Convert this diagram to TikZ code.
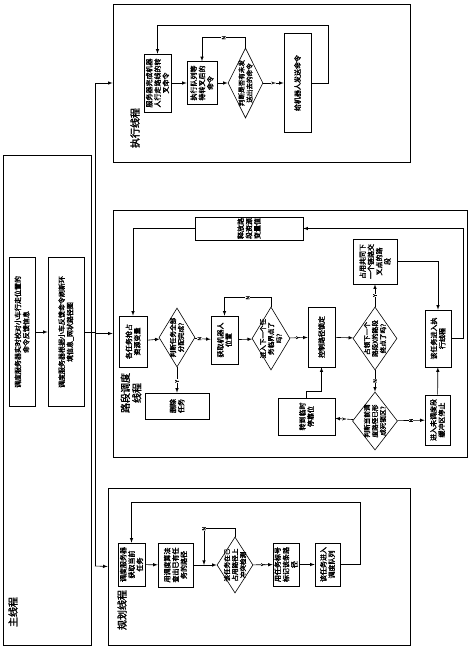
\documentclass[tikz,border=0pt]{standalone}
\usepackage{fontspec}
\setmainfont{Noto Sans CJK SC}[AutoFakeBold = 2]
\usetikzlibrary{shapes.geometric}
\tikzset{
  blk/.style   = {draw, rotate = 90, inner sep = .5pt, align = center,
                  font = \fontsize{7}{8.3}\selectfont\bfseries},
  dia/.style   = {draw, diamond, rotate = 90, inner sep = 0pt},
  dlab/.style  = {rotate = 90, inner sep = 0pt, align = center,
                  font = \fontsize{6.6}{8}\selectfont\bfseries},
  frame/.style = {draw, line width = .8pt, inner sep = 0pt},
  yn/.style    = {rotate = 90, inner sep = .5pt, fill = white,
                  font = \fontsize{5}{5}\selectfont\bfseries},
  title/.style = {rotate = 90, inner sep = 0pt, align = center,
                  font = \fontsize{10}{11.5}\selectfont\bfseries},
}
\begin{document}
\begin{tikzpicture}[x = 1pt, y = -1pt, >= latex, line width = .6pt]
    \useasboundingbox (0, 0) rectangle (474, 648);
    % main thread
    \node (main) at ( 47, 400) [frame, minimum width = 88pt, minimum height = 490pt] {};
    \node at ( 13, 612) [title] {主线程};
    \node (M1) at ( 22, 332) [blk, minimum width = 149pt, minimum height = 26pt]
      {调度服务器实时校对小车行走位置的\\命令反馈信息};
    \node (M2) at ( 66, 332) [blk, minimum width = 149pt, minimum height = 36pt]
      {调度服务器根据小车反馈命令刷新环\\境信息\_网状路径图};
    \coordinate (bt) at (95,  83);
    \coordinate (bb) at (95, 566);

    % execution thread
    \node (exec) at (261.5,  83) [frame, minimum width = 297pt, minimum height = 158pt] {};
    \node at (135, 128) [title] {执行线程};
    \node (E1) at (157.5,  83) [blk, minimum width = 58pt, minimum height = 27pt]
      {服务器完成机器\\人行走路线的转\\叉命令};
    \node (E2) at (202,  83) [blk, minimum width = 43pt, minimum height = 30pt]
      {执行队列等\\待转叉后的\\命令};
    \node (ED) at (245.5,  83) [dia, minimum width = 70pt, minimum height = 35pt,
      label = {[dlab]center:判断是否有未发\\送出去的命令}] {};
    \node (E3) at (297.5,  83) [blk, minimum width = 99pt, minimum height = 27pt]
      {给机器人发送命令};

    % route scheduling thread
    \node (route) at (290, 333.5) [frame, minimum width = 354pt, minimum height = 247pt] {};
    \node at (131, 393) [title] {路段调度\\线程};
    \node (R0) at (249, 228.5) [blk, minimum width = 23pt, minimum height = 108pt]
      {释放路\\段资源\\变量值};
    \node (R1) at (133, 341.5) [blk, minimum width = 51pt, minimum height = 28pt]
      {各任务抢占\\资源变量};
    \node (D1) at (177, 337.5) [dia, minimum width = 59pt, minimum height = 36pt,
      label = {[dlab]center:判断任务全部\\分配完成?}] {};
    \node (R8) at (177, 406) [blk, minimum width = 26pt, minimum height = 64pt]
      {删除\\任务};
    \node (R2) at (224.5, 340) [blk, minimum width = 48pt, minimum height = 27pt]
      {获取机器人\\位置};
    \node (D2) at (271, 338.5) [dia, minimum width = 63pt, minimum height = 38pt,
      label = {[dlab]center:进入下一个任\\务临界点了\\吗?}] {};
    \node (R3) at (321.5, 337) [blk, minimum width = 60pt, minimum height = 27pt]
      {控制路径锁定};
    \node (D3) at (375, 338.5) [dia, minimum width = 63pt, minimum height = 44pt,
      label = {[dlab]center:占领下一个\\路段X的路段\\终点了吗?}] {};
    \node (R4) at (375, 261.5) [blk, minimum width = 45pt, minimum height = 44pt]
      {占用共同下\\一个链路交\\叉点的路\\段};
    \node (R5) at (438, 338.5) [blk, minimum width = 57pt, minimum height = 26pt]
      {该任务进入执\\行线程};
    \node (D4) at (375, 421) [dia, minimum width = 58pt, minimum height = 45pt,
      label = {[dlab]center:判断当前调\\度路径已形\\成死锁区?}] {};
    \node (R6) at (306.5, 416.5) [blk, minimum width = 37pt, minimum height = 57pt]
      {转到临时\\停靠位};
    \node (R7) at (437.5, 420) [blk, minimum width = 50pt, minimum height = 25pt]
      {进入未调度段\\缓冲区停止};

    % planning thread
    \node (plan) at (259, 566.5) [frame, minimum width = 302pt, minimum height = 157pt] {};
    \node at (122, 610) [title] {规划线程};
    \node (P1) at (131.5, 564.5) [blk, minimum width = 43pt, minimum height = 27pt]
      {调度服务器\\获取当前\\任务};
    \node (P2) at (175.5, 565) [blk, minimum width = 44pt, minimum height = 35pt]
      {用调度算法\\查出已有任\\务的路径};
    \node (PD) at (235, 565) [dia, minimum width = 56pt, minimum height = 36pt,
      label = {[dlab]center:该任务在已\\占用路径上\\冲突检测}] {};
    \node (P3) at (286, 564.5) [blk, minimum width = 43pt, minimum height = 26pt]
      {用任务标号\\标记该条路\\径};
    \node (P4) at (327.5, 564.5) [blk, minimum width = 43pt, minimum height = 25pt]
      {该任务进入\\调度队列};
    \coordinate (J) at (204, 565);

    % main thread connectors
    \draw [->] (M1) -- (M2);
    \draw (M2) -- (M2 -| bt);
    \draw (bt) -- (bb);
    \draw [->] (bt) -- (exec.west);
    \draw [->] (route.west -| bt) -- (route.west);
    \draw [->] (bb) -- (plan.west);

    % execution thread connectors
    \draw [->] (E1) -- (E2);
    \draw [->] (E2) -- (ED);
    \draw [->] (ED) -- node [yn] {Y} (E3);
    \draw [->] (ED.east) -- ++(0, -10) -| node [yn, pos = .25] {N} (E2.east);
    \draw [->] (E3.south) -- ++(17, 0) -- ++(0, -58) -| (E1.east);

    % route scheduling thread connectors
    \draw [->] (R0) -| (R1);
    \draw [->] (R1) -- (D1);
    \draw [->] (D1) -- node [yn, pos = .3] {N} (R2);
    \draw [->] (D1) -- node [yn, pos = .55] {Y} (R8);
    \draw [->] (R2) -- (D2);
    \draw [->] (D2) -- node [yn, pos = .45] {Y} (R3);
    \draw [->] (D2.east) -- ++(0, -9) -| node [yn, pos = .25] {N} (R2.east);
    \draw [->] (R3) -- (D3);
    \draw [->] (D3) -- node [yn] {Y} (R4);
    \draw [->] (D3) -- node [yn] {N} (D4);
    \draw [->] (D4) -- node [yn] {Y} (R6);
    \draw [->] (D4) -- node [yn] {N} (R7);
    \draw [->] (R7) -- (R5);
    \draw [->] (R4) -| (R5);
    \draw [->] (R5.south) -- ++(12, 0) |- (R0);
    \draw [->] (R6.east) -- ++(0, -6) -| (R3.west);

    % planning thread connectors
    \draw [->] (P1) -- (P2);
    \draw [->] (P2) -- (PD);
    \draw [->] (PD.east) -- ++(0, -8) -| node [yn, pos = .5] {N} (J);
    \draw [->] (PD) -- node [yn] {Y} (P3);
    \draw [->] (P3) -- (P4);
    \draw [->] (P4.south) -- ++(20, 0) -- ++(0, -62) -| (P1.east);
\end{tikzpicture}
\end{document}
